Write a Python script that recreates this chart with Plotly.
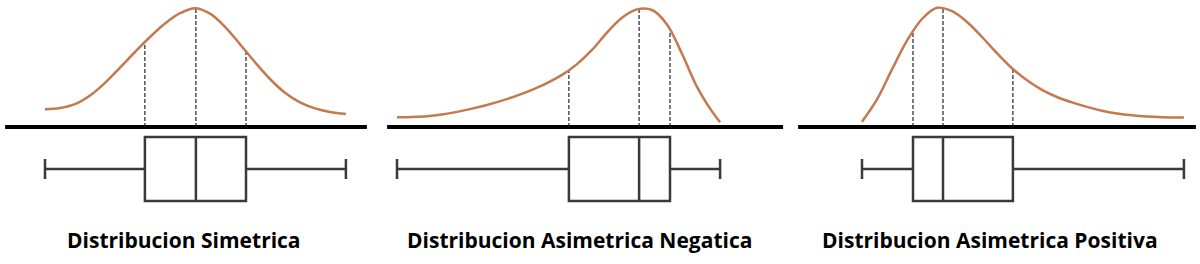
import plotly.graph_objects as go

# ---------------- data ----------------
titles = ["Distribucion Simetrica",
          "Distribucion Asimetrica Negatica",
          "Distribucion Asimetrica Positiva"]

# density curve samples (value, relative density)
sym_x = [0.0, 0.5, 1.0, 1.5, 2.0, 2.5, 3.0, 3.5, 4.0, 4.5, 5.0, 5.5, 6.0, 6.5, 7.0, 7.5, 8.0, 8.5, 9.0, 9.5, 10.03]
sym_y = [0.148, 0.158, 0.19, 0.262, 0.368, 0.495, 0.625, 0.75, 0.862, 0.948, 0.99,
         0.945, 0.835, 0.69, 0.54, 0.40, 0.285, 0.205, 0.155, 0.125, 0.108]

neg_x = [0.0, 0.5, 1.0, 1.5, 2.0, 2.5, 3.0, 3.5, 4.0, 4.5, 5.0, 5.5, 6.0, 6.5, 7.0, 7.5, 8.0, 8.5, 9.0, 9.5, 10.0, 10.5, 10.77]
neg_y = [0.081, 0.083, 0.089, 0.104, 0.126, 0.153, 0.184, 0.22, 0.262, 0.31, 0.366, 0.434,
         0.524, 0.642, 0.787, 0.91, 0.98, 0.975, 0.855, 0.61, 0.335, 0.13, 0.04]

pos_x = [0.0, 0.5, 1.0, 1.5, 2.0, 2.5, 3.0, 3.5, 4.0, 4.5, 5.0, 5.5, 6.0, 6.5, 7.0, 7.5, 8.0, 8.5, 9.0, 9.5, 10.0, 10.73]
pos_y = [0.044, 0.23, 0.48, 0.72, 0.9, 0.993, 0.965, 0.875, 0.75, 0.615, 0.49, 0.39,
         0.31, 0.25, 0.205, 0.168, 0.136, 0.113, 0.097, 0.087, 0.082, 0.08]

# box statistics: min, q1, median, q3, max
sym_stats = [0.0, 3.33, 5.03, 6.7, 10.03]
neg_stats = [0.0, 5.73, 8.07, 9.1, 10.77]
pos_stats = [0.0, 1.7, 2.7, 5.03, 10.73]

# curve height at q1, median, q3 (top of dashed guides)
sym_marks = [0.7, 0.99, 0.63]
neg_marks = [0.47, 0.98, 0.8]
pos_marks = [0.8, 0.99, 0.485]

# extent of the thick base line
sym_base = [-1.33, 10.73]
neg_base = [-0.33, 12.87]
pos_base = [-2.13, 11.13]

# ---------------- styling / layout ----------------
W, H = 1200, 264
CURVE = "#c27a4e"
BOX = "#3a3a3a"
BOX_Y = -0.35
BOX_W = 0.533
Y_RANGE = [-137 / 120, 127 / 120]

panels = [
    (sym_x, sym_y, sym_stats, sym_marks, sym_base),
    (neg_x, neg_y, neg_stats, neg_marks, neg_base),
    (pos_x, pos_y, pos_stats, pos_marks, pos_base),
]
# pixel domain of each panel, pixel of value 0, px per unit
domains_px = [(0, 383), (383, 790), (790, 1200)]
origins_px = [45, 397, 862]
SCALE = 30.0
title_cx = [184, 579, 990]
title_y_px = 240

fig = go.Figure()
layout = dict(
    width=W, height=H,
    margin=dict(l=0, r=0, t=0, b=0),
    paper_bgcolor="white", plot_bgcolor="white",
    showlegend=False,
)

for i, (cx, cy, st, mk, base) in enumerate(panels):
    n = "" if i == 0 else str(i + 1)
    xa, ya = "x" + n, "y" + n
    # base line
    fig.add_trace(go.Scatter(x=base, y=[0, 0], mode="lines",
                             line=dict(color="black", width=4),
                             xaxis=xa, yaxis=ya, hoverinfo="skip", cliponaxis=False))
    # dashed guides
    for q, h in zip(st[1:4], mk):
        fig.add_trace(go.Scatter(x=[q, q], y=[0, h], mode="lines",
                                 line=dict(color="#111111", width=1.1, dash="4px,2px"),
                                 xaxis=xa, yaxis=ya, hoverinfo="skip"))
    # density curve
    fig.add_trace(go.Scatter(x=cx, y=cy, mode="lines",
                             line=dict(color=CURVE, width=2.5, shape="spline", smoothing=1.0),
                             xaxis=xa, yaxis=ya, hoverinfo="skip", cliponaxis=False))
    # box plot
    fig.add_trace(go.Box(
        y=[BOX_Y], lowerfence=[st[0]], q1=[st[1]], median=[st[2]],
        q3=[st[3]], upperfence=[st[4]], orientation="h",
        width=BOX_W, whiskerwidth=0.31, boxpoints=False,
        fillcolor="white", line=dict(color=BOX, width=2.5),
        xaxis=xa, yaxis=ya, hoverinfo="skip"))

    d0, d1 = domains_px[i]
    o = origins_px[i]
    layout["xaxis" + n] = dict(domain=[d0 / W, d1 / W],
                               range=[(d0 - o) / SCALE, (d1 - o) / SCALE],
                               visible=False, anchor=ya, fixedrange=True)
    layout["yaxis" + n] = dict(domain=[0, 1], range=Y_RANGE,
                               visible=False, anchor=xa, fixedrange=True)

annotations = []
for i, t in enumerate(titles):
    annotations.append(dict(
        text=t, xref="paper", yref="paper",
        x=title_cx[i] / W, y=1 - title_y_px / H,
        xanchor="center", yanchor="middle", showarrow=False,
        font=dict(family="Open Sans", size=21, color="black", weight="bold")))
layout["annotations"] = annotations

fig.update_layout(**layout)
fig.write_html("out.html")
